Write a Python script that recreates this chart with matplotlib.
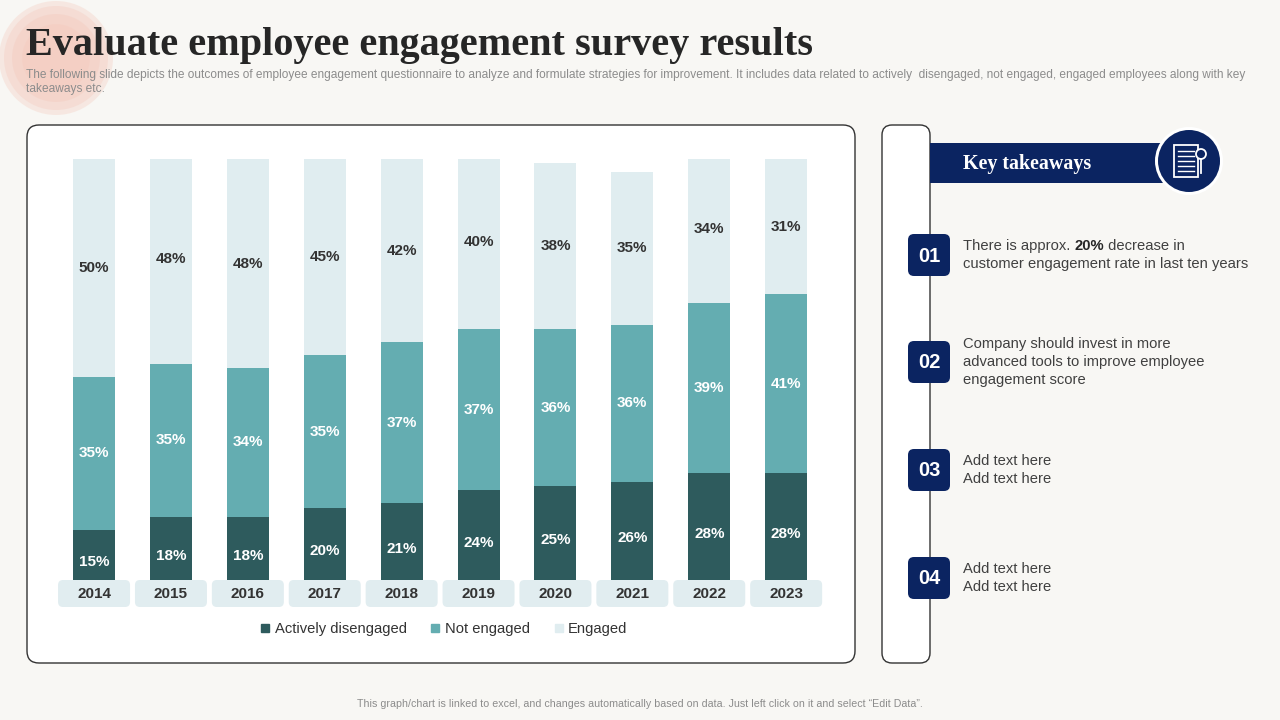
import numpy as np
import matplotlib.pyplot as plt
from matplotlib.patches import FancyBboxPatch, Rectangle, Circle
from matplotlib.lines import Line2D

# Survey data (percent of employees)
years = ['2014', '2015', '2016', '2017', '2018', '2019', '2020', '2021', '2022', '2023']
actively_disengaged = [15, 18, 18, 20, 21, 24, 25, 26, 28, 28]
not_engaged = [35, 35, 34, 35, 37, 37, 36, 36, 39, 41]
engaged = [50, 48, 48, 45, 42, 40, 38, 35, 34, 31]
series_names = ['Actively disengaged', 'Not engaged', 'Engaged']

takeaway_nums = ['01', '02', '03', '04']
takeaway_lines = [
    None,
    ['Company should invest in more', 'advanced tools to improve employee', 'engagement score'],
    ['Add text here', 'Add text here'],
    ['Add text here', 'Add text here'],
]

c_dark = '#2e5b5d'
c_mid = '#64adb1'
c_light = '#e0edf0'
navy = '#0b2461'
bg = '#f8f7f4'
txt = '#404040'
sans = 'Liberation Sans'
body_size = 10.6

fig = plt.figure(figsize=(12.8, 7.2), dpi=100, facecolor=bg)

# background layer in pixel coordinates
bgax = fig.add_axes([0, 0, 1, 1], zorder=0)
bgax.set_xlim(0, 1280)
bgax.set_ylim(720, 0)
bgax.axis('off')

# soft peach circle behind the title
for r, a in [(57, 0.3), (52, 0.3), (44, 0.3), (34, 0.25)]:
    bgax.add_patch(Circle((56, 58), r, fc='#f4c4b6', ec='none', alpha=a))

bgax.text(26, 46, 'Evaluate employee engagement survey results', family='Liberation Serif',
          fontweight='bold', fontsize=29, color='#262626', va='center', ha='left')
bgax.text(26, 75, 'The following slide depicts the outcomes of employee engagement questionnaire to analyze and '
          'formulate strategies for improvement. It includes data related to actively  disengaged, not engaged, '
          'engaged employees along with key', family=sans, fontsize=8.6, color='#8c8c8c', va='center')
bgax.text(26, 89, 'takeaways etc.', family=sans, fontsize=8.6, color='#8c8c8c', va='center')
bgax.text(640, 704, 'This graph/chart is linked to excel, and changes automatically based on data. '
          'Just left click on it and select \u201cEdit Data\u201d.', family=sans, fontsize=7.7,
          color='#8c8c8c', ha='center', va='center')

# chart frame and side panel
bgax.add_patch(FancyBboxPatch((27, 125), 828, 538, boxstyle='round,pad=0,rounding_size=12',
                              fc='white', ec='#333333', lw=1))
bgax.add_patch(FancyBboxPatch((882, 125), 48, 538, boxstyle='round,pad=0,rounding_size=10',
                              fc='white', ec='#333333', lw=1))

# bar chart
left_px, right_px = 55.6, 824.6
bottom_px, top_px = 595, 159
ax = fig.add_axes([left_px / 1280, (720 - bottom_px) / 720,
                   (right_px - left_px) / 1280, (bottom_px - top_px) / 720], zorder=1)
ax.patch.set_alpha(0)
x = np.arange(len(years))
w = 0.546
d = np.array(actively_disengaged)
n = np.array(not_engaged)
e = np.array(engaged)
ax.bar(x, d, w, color=c_dark)
ax.bar(x, n, w, bottom=d, color=c_mid)
ax.bar(x, e, w, bottom=d + n, color=c_light)
for i in range(len(years)):
    ax.text(x[i], d[i] / 2, f'{d[i]}%', ha='center', va='center', color='white',
            fontweight='bold', fontsize=11, family=sans)
    ax.text(x[i], d[i] + n[i] / 2, f'{n[i]}%', ha='center', va='center', color='white',
            fontweight='bold', fontsize=11, family=sans)
    ax.text(x[i], d[i] + n[i] + e[i] / 2, f'{e[i]}%', ha='center', va='center', color='#333333',
            fontweight='bold', fontsize=11, family=sans)
ax.set_xlim(-0.5, len(years) - 0.5)
ax.set_ylim(0, 100)
ax.axis('off')

# year label boxes over the bar bases
topax = fig.add_axes([0, 0, 1, 1], zorder=2)
topax.set_xlim(0, 1280)
topax.set_ylim(720, 0)
topax.axis('off')
fig.canvas.draw()
for i, yr in enumerate(years):
    cx = ax.transData.transform((x[i], 0))[0]
    topax.add_patch(FancyBboxPatch((cx - 36, 580), 72, 27, boxstyle='round,pad=0,rounding_size=5',
                                   fc='#e1edf0', ec='none'))
    topax.text(cx, 594, yr, ha='center', va='center', fontweight='bold', fontsize=11,
               color='#333333', family=sans)

handles = [Line2D([], [], marker='s', ls='none', markersize=6, color=c) for c in (c_dark, c_mid, c_light)]
topax.legend(handles, series_names, loc='center', bbox_to_anchor=(443 / 1280, 1 - 629 / 720),
             bbox_transform=fig.transFigure, ncol=3, frameon=False, handletextpad=0.2,
             handlelength=0.9, columnspacing=1.5, prop={'family': sans, 'size': 10.6},
             labelcolor='#333333')

# key takeaways banner
topax.add_patch(Rectangle((930, 143), 245, 40, fc=navy, ec='none'))
topax.text(963, 164, 'Key takeaways', family='Liberation Serif', fontweight='bold', fontsize=14.4,
           color='white', va='center')
topax.add_patch(Circle((1189, 161), 34, fc='white', ec='none'))
topax.add_patch(Circle((1189, 161), 31, fc=navy, ec='none'))
topax.add_patch(Rectangle((1174, 145), 24, 32, fc='none', ec='white', lw=1.3))
for yy in (151, 156, 161, 166, 171):
    topax.plot([1178, 1194], [yy, yy], color='white', lw=1)
topax.add_patch(Circle((1201, 154), 5, fc=navy, ec='white', lw=1.3))
topax.plot([1201, 1201], [159, 173], color='white', lw=1.3)

# numbered takeaways
centers = [255, 362, 470, 578]
for num, cy, lines in zip(takeaway_nums, centers, takeaway_lines):
    topax.add_patch(FancyBboxPatch((908, cy - 21), 42, 42, boxstyle='round,pad=0,rounding_size=6',
                                   fc=navy, ec='none'))
    topax.text(929, cy + 1, num, ha='center', va='center', color='white', fontweight='bold',
               fontsize=14.5, family=sans)
    if lines is not None:
        y0 = cy - 9 * (len(lines) - 1)
        for k, line in enumerate(lines):
            topax.text(963, y0 + 18 * k, line, va='center', fontsize=body_size, color=txt, family=sans)

# first takeaway with bold figure
renderer = fig.canvas.get_renderer()
t1 = topax.text(963, 246, 'There is approx. ', va='center', fontsize=body_size, color=txt, family=sans)
bb = t1.get_window_extent(renderer)
xpix = topax.transData.inverted().transform((bb.x1, 0))[0]
t2 = topax.text(xpix, 246, '20%', va='center', fontsize=body_size, color='#262626', family=sans,
                fontweight='bold')
bb = t2.get_window_extent(renderer)
xpix = topax.transData.inverted().transform((bb.x1, 0))[0]
topax.text(xpix, 246, ' decrease in', va='center', fontsize=body_size, color=txt, family=sans)
topax.text(963, 264, 'customer engagement rate in last ten years', va='center', fontsize=body_size,
           color=txt, family=sans)

fig.savefig('out.png', dpi=100, facecolor=bg)
